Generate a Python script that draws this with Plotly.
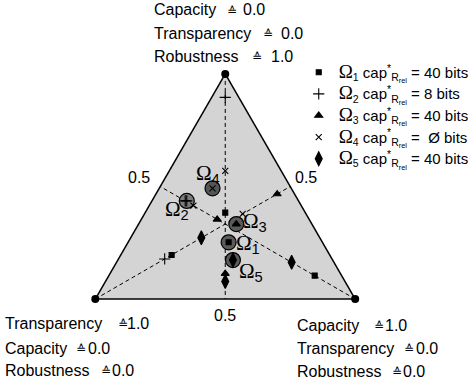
import plotly.graph_objects as go

W, H = 474, 380

# ---- data (a = Robustness, b = Transparency, c = Capacity) ----
series_ids = ["1", "2", "3", "4", "5"]
series_bits = ["40 bits", "8 bits", "40 bits", "\u00a0Ø bits", "40 bits"]
series_symbols = ["square", "cross-thin", "triangle-up", "x-thin", "diamond-tall"]
series_sizes = [5, 8, 7, 6, 10]

# points on the three medians (vertical, from Transparency corner, from Capacity corner)
om1_a = [0.384, 0.196, 0.104]; om1_b = [0.308, 0.609, 0.104]; om1_c = [0.308, 0.196, 0.793]
om2_a = [0.896, 0.178, 0.436]; om2_b = [0.052, 0.644, 0.436]; om2_c = [0.052, 0.178, 0.128]
om3_a = [0.113, 0.467, 0.354]; om3_b = [0.4435, 0.067, 0.354]; om3_c = [0.4435, 0.467, 0.292]
om4_a = [0.569, 0.378, 0.415]; om4_b = [0.2155, 0.244, 0.415]; om4_c = [0.2155, 0.378, 0.170]
om5_a = [0.078, 0.272, 0.163]; om5_b = [0.461, 0.456, 0.163]; om5_c = [0.461, 0.272, 0.674]

# combined operating points (circles)
circle_a = [0.252, 0.436, 0.333, 0.492, 0.173]
circle_b = [0.361, 0.430, 0.291, 0.303, 0.384]
circle_c = [0.387, 0.134, 0.376, 0.205, 0.443]
circle_colors = ["#5a5a5a", "#7c7c7c", "#5a5a5a", "#555555", "#5a5a5a"]

series_a = [om1_a, om2_a, om3_a, om4_a, om5_a]
series_b = [om1_b, om2_b, om3_b, om4_b, om5_b]
series_c = [om1_c, om2_c, om3_c, om4_c, om5_c]

# medians
median_a = [[1, 0], [0, 0.5], [0, 0.5]]
median_b = [[0, 0.5], [1, 0], [0, 0.5]]
median_c = [[0, 0.5], [0, 0.5], [1, 0]]

vertex_a = [1, 0, 0]
vertex_b = [0, 1, 0]
vertex_c = [0, 0, 1]

SANS = "Liberation Sans, Arial, sans-serif"
SERIF = "Liberation Serif, Times New Roman, serif"
OMEGA = "<span style='font-family:Liberation Serif, serif;font-size:19px'>Ω</span>"

fig = go.Figure()

for ma, mb, mc in zip(median_a, median_b, median_c):
    fig.add_trace(go.Scatterternary(a=ma, b=mb, c=mc, mode="lines",
                                    line=dict(color="black", width=1, dash="4px,3px"),
                                    showlegend=False, hoverinfo="skip", cliponaxis=False))

for i in range(5):
    fig.add_trace(go.Scatterternary(a=[circle_a[i]], b=[circle_b[i]], c=[circle_c[i]], mode="markers",
                                    marker=dict(size=15, color=circle_colors[i],
                                                line=dict(color="black", width=1.2)),
                                    showlegend=False, hoverinfo="skip", cliponaxis=False))

for i in range(5):
    name = ("<span style='font-size:15px'>" + OMEGA + "<sub>" + series_ids[i]
            + "</sub> cap<sup>*</sup><sub>R<sub>rel</sub></sub> = " + series_bits[i] + "</span>")
    fig.add_trace(go.Scatterternary(a=series_a[i] + [circle_a[i]], b=series_b[i] + [circle_b[i]],
                                    c=series_c[i] + [circle_c[i]], mode="markers", name=name,
                                    marker=dict(symbol=series_symbols[i], size=series_sizes[i],
                                                color="black", line=dict(color="black", width=1.1)),
                                    hoverinfo="skip", cliponaxis=False))

fig.add_trace(go.Scatterternary(a=vertex_a, b=vertex_b, c=vertex_c, mode="markers",
                                marker=dict(size=8, color="black"), showlegend=False,
                                hoverinfo="skip", cliponaxis=False))

axis_style = dict(showline=True, linecolor="black", linewidth=1.5, ticks="",
                  showticklabels=False, showgrid=False, title=dict(text=""))

annotations = []
def ann(text, px, py, size=16, xanchor="left", family=SANS):
    annotations.append(dict(text=text, x=px / W, y=1 - py / H, xref="paper", yref="paper",
                            showarrow=False, xanchor=xanchor, yanchor="middle",
                            font=dict(family=family, size=size, color="black")))

corner_words = ["Capacity", "Transparency", "Robustness",
                "Transparency", "Capacity", "Robustness",
                "Capacity", "Transparency", "Robustness"]
corner_values = ["0.0", "0.0", "1.0", "1.0", "0.0", "0.0", "1.0", "0.0", "0.0"]
word_x = [153, 153, 153, 3, 3, 3, 296, 296, 296]
eq_x = [226, 262, 251, 116, 74, 99, 374, 404, 392]
val_x = [242, 280, 270, 126, 86, 110, 385, 416, 403]
line_y = [10, 33, 56, 323, 348, 370, 325, 348, 371]

for w, v, xw, xe, xv, yy in zip(corner_words, corner_values, word_x, eq_x, val_x, line_y):
    ann(w, xw, yy)
    ann("≙", xe, yy + 1, size=12, family="DejaVu Sans")
    ann(v, xv, yy)

ann("0.5", 226, 315, xanchor="center")
ann("0.5", 140, 177, xanchor="center")
ann("0.5", 307, 177, xanchor="center")

label_x = [235, 164, 242, 195, 238]
label_y = [244, 210, 222, 174, 272]
for sid, lx, ly in zip(series_ids, label_x, label_y):
    ann("Ω<sub><span style='font-family:Liberation Sans, Arial, sans-serif'>" + sid + "</span></sub>",
        lx, ly, size=21, family=SERIF)

fig.update_layout(
    width=W, height=H,
    margin=dict(l=0, r=0, t=0, b=0),
    paper_bgcolor="white",
    showlegend=True,
    hovermode=False,
    ternary=dict(
        domain=dict(x=[95.7 / W, 356.7 / W], y=[1 - 299.5 / H, 1 - 73.5 / H]),
        sum=1, bgcolor="#d4d4d4",
        aaxis=axis_style, baxis=axis_style, caxis=axis_style,
    ),
    legend=dict(x=300 / W, y=1 - 56.5 / H, xanchor="left", yanchor="top",
                bgcolor="rgba(0,0,0,0)", borderwidth=0,
                font=dict(family=SANS, size=14.3, color="black"),
                tracegroupgap=0),
    annotations=annotations,
)

fig.write_html("out.html")
